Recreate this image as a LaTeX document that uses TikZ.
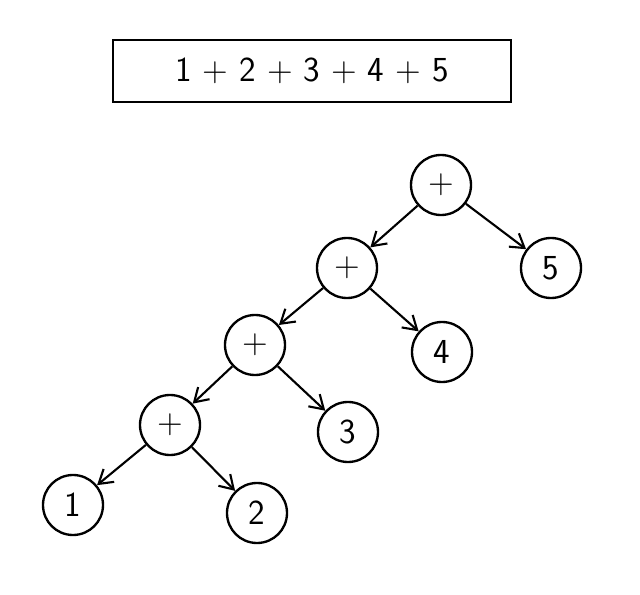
\documentclass[tikz,border=0pt]{standalone}
\usetikzlibrary{arrows.meta}
\begin{document}
\begin{tikzpicture}[x=0.03cm,y=-0.03cm,
  nd/.style={circle,draw,line width=2pt,minimum size=1.8cm,inner sep=0pt,font=\sffamily\fontsize{30}{32}\selectfont},
  ed/.style={line width=1.8pt,-{Straight Barb[length=4mm,width=5mm]}}]
\useasboundingbox (0,0) rectangle (640,595);
\node[draw,line width=2pt,minimum width=398*0.03cm,minimum height=62*0.03cm,font=\sffamily\fontsize{30}{32}\selectfont] (expr) at (312,71) {1 + 2 + 3 + 4 + 5};
\node[nd] (p1) at (441,185) {+};
\node[nd] (n5) at (551,268) {5};
\node[nd] (p2) at (347,268) {+};
\node[nd] (n4) at (442,352) {4};
\node[nd] (p3) at (255,345) {+};
\node[nd] (n3) at (348,432) {3};
\node[nd] (p4) at (170,425) {+};
\node[nd] (n1) at (73,505) {1};
\node[nd] (n2) at (257,513) {2};
\draw[ed] (p1) -- (p2);
\draw[ed] (p1) -- (n5);
\draw[ed] (p2) -- (p3);
\draw[ed] (p2) -- (n4);
\draw[ed] (p3) -- (p4);
\draw[ed] (p3) -- (n3);
\draw[ed] (p4) -- (n1);
\draw[ed] (p4) -- (n2);
\end{tikzpicture}
\end{document}
